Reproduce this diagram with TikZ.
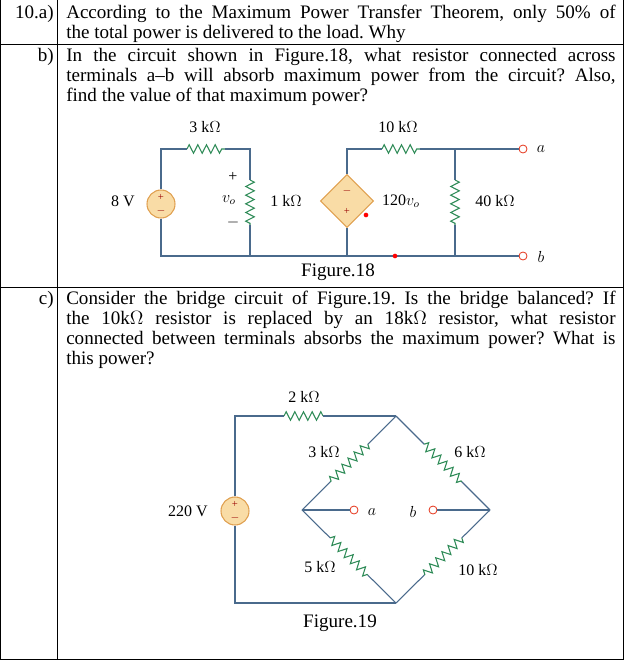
\documentclass[tikz,border=0pt]{standalone}
\usepackage{fontspec}
\setmainfont{Liberation Serif}
\frenchspacing
\usetikzlibrary{decorations.pathmorphing,calc,shapes.geometric}
\definecolor{wire}{HTML}{4A6A8C}
\definecolor{resg}{HTML}{2E8B57}
\definecolor{srcf}{HTML}{F9DCA6}
\definecolor{srcd}{HTML}{E0A050}
\tikzset{
  body/.style={anchor=north west,inner sep=0pt,text width=412pt,align=justify,font=\fontsize{14.3}{15}\selectfont},
  lbl/.style={anchor=north east,inner sep=0pt,font=\fontsize{14.3}{15}\selectfont},
  wr/.style={draw=wire,line width=0.8pt},
  res/.style={draw=resg,line width=0.8pt,decorate,decoration={zigzag,segment length=6.5pt,amplitude=3.2pt}},
  src/.style={circle,draw=srcd,fill=srcf,line width=0.8pt,minimum size=21pt,inner sep=0pt},
  dep/.style={diamond,draw=srcd,fill=srcf,line width=0.8pt,minimum size=40pt,inner sep=0pt},
  term/.style={circle,draw=red!60!brown,fill=white,line width=0.6pt,minimum size=6pt,inner sep=0pt},
  cl/.style={inner sep=1pt,font=\fontsize{12}{13}\selectfont},
  sg/.style={inner sep=0pt,font=\fontsize{8}{8}\selectfont,text=red!60!black},
  rdot/.style={circle,fill=red,inner sep=0pt,minimum size=3.5pt}
}
\begin{document}
\begin{tikzpicture}[x=0.75pt,y=-0.75pt]
\useasboundingbox (0,0) rectangle (625,660);
% table
\draw[line width=0.7pt] (0.5,0) -- (0.5,659.5) -- (623,659.5) -- (623,0);
\draw[line width=0.7pt] (57,0) -- (57,659.5);
\draw[line width=0.7pt] (0.5,44) -- (623,44);
\draw[line width=0.7pt] (0.5,287) -- (623,287);
\node[lbl] (la) at (54,5) {10.a)};
\node[lbl] (lb) at (54,48) {b)};
\node[lbl] (lc) at (54,291) {c)};
\node[body] (ta) at (66,5) {According to the Maximum Power Transfer Theorem, only 50\% of\linebreak the total power is delivered to the load. Why};
\node[body] (tb) at (66,48) {In the circuit shown in Figure.18, what resistor connected across\linebreak terminals a--b will absorb maximum power from the circuit? Also,\linebreak find the value of that maximum power?};
\node[body] (tc) at (66,291) {Consider the bridge circuit of Figure.19. Is the bridge balanced? If\linebreak the 10k$\Omega$ resistor is replaced by an 18k$\Omega$ resistor, what resistor\linebreak connected between terminals absorbs the maximum power? What is\linebreak this power?};
% ---- Figure 18
\coordinate (p1) at (161,149); \coordinate (p2) at (250,149);
\coordinate (p3) at (161,256); \coordinate (p4) at (250,256);
\coordinate (p5) at (347,149); \coordinate (p6) at (455,149);
\coordinate (p7) at (347,256); \coordinate (p8) at (455,256);
\coordinate (r1a) at (187,149); \coordinate (r1b) at (225,149);
\coordinate (r2a) at (250,180); \coordinate (r2b) at (250,225);
\coordinate (r3a) at (382,149); \coordinate (r3b) at (420,149);
\coordinate (r4a) at (455,180); \coordinate (r4b) at (455,225);
\node[src] (v1) at (161,204) {};
\node[sg] at (161,197) {+};
\node[sg] at (161,211) {$-$};
\node[dep] (d1) at (347,201) {};
\node[sg] at (347,191) {$-$};
\node[sg] at (347,211) {+};
\node[term] (ta1) at (523,149) {};
\node[term] (tb1) at (523,256) {};
\draw[wr] (v1) -- (p1) -- (r1a); \draw[res] (r1a) -- (r1b);
\draw[wr] (r1b) -- (p2) -- (r2a); \draw[res] (r2a) -- (r2b);
\draw[wr] (r2b) -- (p4); \draw[wr] (v1) -- (p3) -- (p4) -- (p7) -- (p8) -- (tb1);
\draw[wr] (d1) -- (p5) -- (r3a); \draw[res] (r3a) -- (r3b);
\draw[wr] (r3b) -- (p6) -- (ta1); \draw[wr] (d1) -- (p7);
\draw[wr] (p6) -- (r4a); \draw[res] (r4a) -- (r4b); \draw[wr] (r4b) -- (p8);
\node[cl] (l1) at (205,127) {3 k$\Omega$};
\node[cl] (l2) at (398,127) {10 k$\Omega$};
\node[cl] (l3) at (123,201) {8 V};
\node[cl] (l4) at (233,177) {+};
\node[cl] (l5) at (229,200) {$v_o$};
\node[cl] (l6) at (233,222) {$-$};
\node[cl] (l7) at (286,201) {1 k$\Omega$};
\node[cl] (l8) at (401,201) {120$v_o$};
\node[cl] (l9) at (495,201) {40 k$\Omega$};
\node[cl] (la1) at (541,149) {$a$};
\node[cl] (lb1) at (541,257) {$b$};
\node[rdot] (rd1) at (366,215) {};
\node[rdot] (rd2) at (395,256) {};
\node[inner sep=0pt,font=\fontsize{14.3}{15}\selectfont] (f18) at (338,272) {Figure.18};
% ---- Figure 19
\coordinate (q1) at (235,416); \coordinate (q2) at (235,603);
\coordinate (T) at (396,416); \coordinate (L) at (302,510);
\coordinate (R) at (490,510); \coordinate (B) at (396,603);
\coordinate (s1) at (284,416); \coordinate (s2) at (323,416);
\node[src] (v2) at (235,511) {};
\node[sg] at (235,504) {+};
\node[sg] at (235,518) {$-$};
\node[term] (ta2) at (354,510) {};
\node[term] (tb2) at (433,510) {};
\draw[wr] (v2) -- (q1) -- (s1); \draw[res] (s1) -- (s2); \draw[wr] (s2) -- (T);
\draw[wr] (v2) -- (q2) -- (B);
\foreach \A/\Bn in {T/L,T/R,L/B,R/B}{
  \draw[wr] (\A) -- ($(\A)!0.3!(\Bn)$);
  \draw[res] ($(\A)!0.3!(\Bn)$) -- ($(\A)!0.7!(\Bn)$);
  \draw[wr] ($(\A)!0.7!(\Bn)$) -- (\Bn);
}
\draw[wr] (L) -- (ta2); \draw[wr] (tb2) -- (R);
\node[cl] (m1) at (304,397) {2 k$\Omega$};
\node[cl] (m2) at (324,452) {3 k$\Omega$};
\node[cl] (m3) at (470,452) {6 k$\Omega$};
\node[cl] (m4) at (188,511) {220 V};
\node[cl] (m5) at (320,567) {5 k$\Omega$};
\node[cl] (m6) at (478,570) {10 k$\Omega$};
\node[cl] (ma) at (372,512) {$a$};
\node[cl] (mb) at (413,512) {$b$};
\node[inner sep=0pt,font=\fontsize{14.3}{15}\selectfont] (f19) at (340,623) {Figure.19};
\end{tikzpicture}
\end{document}
